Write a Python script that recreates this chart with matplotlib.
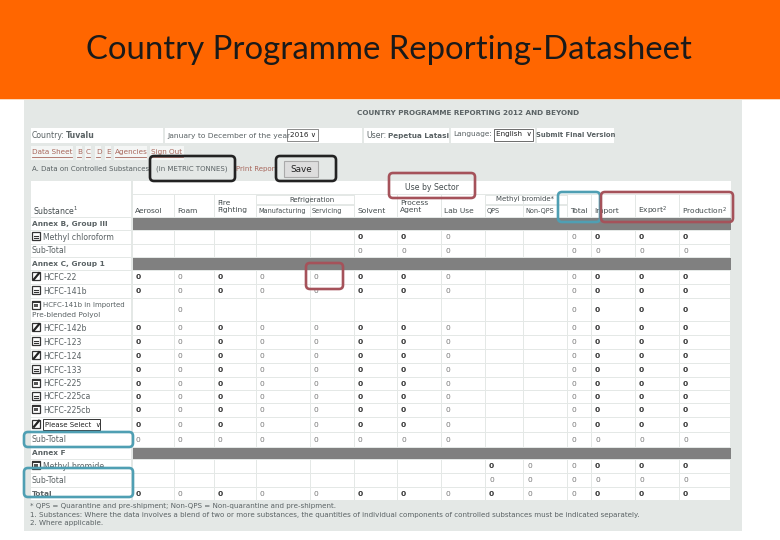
import matplotlib
matplotlib.use("Agg")
import matplotlib.pyplot as plt
from matplotlib.patches import Rectangle, FancyBboxPatch

plt.rcParams["font.family"] = ["DejaVu Sans"]

# DATA

title = "Country Programme Reporting-Datasheet"
page_title = "COUNTRY PROGRAMME REPORTING 2012 AND BEYOND"

columns = ["Aerosol", "Foam", "Fire\nFighting", "Manufacturing", "Servicing", "Solvent",
           "Process\nAgent", "Lab Use", "QPS", "Non-QPS", "Total", "Import", "Export$^2$", "Production$^2$"]

row_names = ["Annex B, Group III", "Methyl chloroform", "Sub-Total", "Annex C, Group 1", "HCFC-22", "HCFC-141b",
             "HCFC-141b in Imported\nPre-blended Polyol", "HCFC-142b", "HCFC-123", "HCFC-124", "HCFC-133", "HCFC-225",
             "HCFC-225ca", "HCFC-225cb", "", "Sub-Total", "Annex F", "Methyl bromide", "Sub-Total", "Total"]

sector_only = ["", "", "", "", "", "0", "0", "0", "", "", "0", "0", "0", "0"]
hcfc = ["0", "0", "0", "0", "0", "0", "0", "0", "", "", "0", "0", "0", "0"]
polyol = ["", "0", "", "", "", "", "", "", "", "", "0", "0", "0", "0"]
mbr = ["", "", "", "", "", "", "", "", "0", "0", "0", "0", "0", "0"]
all_zero = ["0"] * 14

row_values = [None, sector_only, sector_only, None, hcfc, hcfc, polyol, hcfc, hcfc, hcfc, hcfc, hcfc,
              hcfc, hcfc, hcfc, hcfc, None, mbr, mbr, all_zero]

row_icons = ["", "doc", "", "", "pen", "doc", "grid", "pen", "doc", "pen", "doc", "grid",
             "doc", "grid", "pen", "", "", "grid", "", ""]

footnotes = ["* QPS = Quarantine and pre-shipment; Non-QPS = Non-quarantine and pre-shipment.",
             "1. Substances: Where the data involves a blend of two or more substances, the quantities of individual components of controlled substances must be indicated separately.",
             "2. Where applicable."]

# LAYOUT (pixels)

col_edges = [133, 175, 215, 257, 311, 355, 398, 442, 486, 524, 568, 592, 636, 680, 731]
row_edges = [218, 231, 245, 258, 271, 285, 299, 322, 336, 350, 364, 378, 391, 404, 418, 433, 448, 460, 474, 488, 501]
section_rows = ["Annex B, Group III", "Annex C, Group 1", "Annex F"]
bold_cols = [0, 2, 5, 6, 8, 11, 12, 13]

text_col = "#5a6264"
link_col = "#a8675c"
red = "#a5525a"
teal = "#4f9fb3"
black = "#222222"
gap = 1.5

fig = plt.figure(figsize=(7.8, 5.4), dpi=100)
ax = fig.add_axes([0, 0, 1, 1])
ax.set_xlim(0, 780)
ax.set_ylim(540, 0)
ax.axis("off")


def box(x0, y0, x1, y1, color="white", z=2):
    ax.add_patch(Rectangle((x0, y0), x1 - x0, y1 - y0, facecolor=color, edgecolor="none", zorder=z))


def label(x, y, s, size=5.6, color=text_col, ha="left", weight="normal"):
    ax.text(x, y, s, fontsize=size, color=color, ha=ha, va="center", weight=weight, zorder=4, linespacing=1.1)


def mark(x0, y0, x1, y1, color):
    ax.add_patch(FancyBboxPatch((x0 + 3, y0 + 3), x1 - x0 - 6, y1 - y0 - 6, boxstyle="round,pad=3,rounding_size=4",
                                facecolor="none", edgecolor=color, linewidth=1.9, zorder=6))


def icon(x, y, kind):
    ax.add_patch(Rectangle((x, y - 4), 8, 8, facecolor="white", edgecolor="#333333", linewidth=0.9, zorder=5))
    if kind == "pen":
        ax.plot([x + 2, x + 7], [y + 3, y - 3], color="#222222", linewidth=1.6, zorder=5)
    elif kind == "doc":
        ax.plot([x + 2, x + 6], [y, y], color="#333333", linewidth=0.8, zorder=5)
        ax.plot([x + 2, x + 6], [y + 2, y + 2], color="#333333", linewidth=0.8, zorder=5)
    else:
        box(x, y - 4, x + 8, y - 2, "#333333", z=5)
        box(x + 2, y - 1, x + 6, y + 2, "#555555", z=5)


# banner and panel
box(0, 0, 780, 99, "#ff6600")
box(0, 99, 780, 100, "#fbd9bd")
ax.text(389, 50, title, fontsize=23.7, family="Lato", color="#1a1a1a", ha="center", va="center")
box(24, 100, 742, 531, "#e4e8e6", z=1)

label(468, 113, page_title, size=5.2, ha="center", weight="bold")

# user bar
box(31, 128, 163, 143)
box(165, 128, 362, 143)
box(364, 128, 449, 143)
box(451, 128, 535, 143)
box(537, 128, 614, 143)
label(32, 136, "Country:")
label(66, 136, "Tuvalu", weight="bold")
label(167, 136, "January to December of the year", size=5.4)
ax.add_patch(Rectangle((287, 129), 31, 12, facecolor="white", edgecolor="#777777", linewidth=0.6, zorder=3))
label(290, 135, "2016 \u2228", color="#222222", size=5.2)
label(366, 136, "User:")
label(388, 136, "Pepetua Latasi", weight="bold", size=5.2)
label(453, 134, "Language:", size=5.3)
ax.add_patch(Rectangle((494, 129), 39, 12, facecolor="white", edgecolor="#555555", linewidth=0.6, zorder=3))
label(496, 134, "English  \u2228", color="#222222", size=5.2)
label(576, 135, "Submit Final Version", ha="center", size=4.9, weight="bold")

# links
for x0, x1, s in [(31, 73, "Data Sheet"), (76, 82, "B"), (85, 91, "C"), (95, 101, "D"), (105, 111, "E"), (114, 147, "Agencies"), (150, 184, "Sign Out")]:
    box(x0, 146, x1, 160, "#f4f6f5", z=2)
    label(x0 + 1, 152, s, color=link_col, size=5.2)
    ax.plot([x0 + 1, x1 - 1], [157, 157], color=link_col, linewidth=0.6, zorder=4)

label(32, 169, "A. Data on Controlled Substances", size=5.0)
label(156, 169, "(in METRIC TONNES)", size=5.0)
label(236, 169, "Print Report", color=link_col, size=5.0)
ax.add_patch(Rectangle((284, 161), 34, 16, facecolor="#dddddd", edgecolor="#aaaaaa", linewidth=0.8, zorder=3))
label(301, 169, "Save", size=6.4, ha="center", color="#222222")

# table header
box(31, 181, 131, 217)
box(133, 181, 731, 194)
label(33, 211, "Substance$^1$", color="#444c4e")
label(432, 187, "Use by Sector", ha="center", color="#444c4e")
for i, name in enumerate(columns):
    x0, x1 = col_edges[i], col_edges[i + 1]
    if i in (3, 4, 8, 9):
        box(x0, 196, x1 - gap, 204)
        box(x0, 205.5, x1 - gap, 217)
        label(x0 + 1, 211, name, size=4.7, color="#444c4e")
    else:
        box(x0, 195, x1 - gap, 217)
        yy = 206.5 if "\n" in name else 211
        label(x0 + 2, yy, name, color="#444c4e", size=5.4)
label(312, 200, "Refrigeration", ha="center", size=5.0, color="#444c4e")
label(525, 199, "Methyl bromide*", ha="center", size=5.0, color="#444c4e")

# table rows
for r, name in enumerate(row_names):
    y0, y1 = row_edges[r], row_edges[r + 1] - gap
    ym = (y0 + y1) / 2
    box(31, y0, 131, y1)
    if name in section_rows:
        label(32, ym, name, weight="bold", size=5.3)
        box(133, y0, 731, y1, "#808080")
        continue
    if row_icons[r]:
        icon(32, ym - 1 if "\n" not in name else y0 + 6, row_icons[r])
    if name == "Sub-Total":
        label(32, ym, name)
    elif name == "Total":
        label(32, ym, name, weight="bold", size=5.3)
    elif name == "":
        ax.add_patch(Rectangle((43, y0 + 1), 57, 11, facecolor="white", edgecolor="#333333", linewidth=0.7, zorder=3))
        label(45, ym, "Please Select  \u2228", size=5.0, color="#222222")
    elif "\n" in name:
        first, second = name.split("\n")
        label(43, y0 + 6, first, size=5.0)
        label(32, y0 + 16, second, size=5.3)
    else:
        label(43, ym, name)
    for c, val in enumerate(row_values[r]):
        box(col_edges[c], y0, col_edges[c + 1] - gap, y1)
        bold = c in bold_cols and name != "Sub-Total"
        label(col_edges[c] + 3, ym, val, size=5.4, weight="bold" if bold else "normal",
              color="#333333" if bold else "#777777")

# footnotes
for i, note in enumerate(footnotes):
    label(30, 506 + i * 8.7, note, size=5.15)

# highlight boxes
mark(150, 156, 235, 181, black)
mark(276, 156, 336, 181, black)
mark(389, 173, 475, 198, red)
mark(558, 192, 600, 222, teal)
mark(601, 192, 733, 222, red)
mark(306, 263, 343, 289, red)
mark(24, 432, 133, 447, teal)
mark(24, 468, 133, 497, teal)

fig.savefig("out.png", dpi=100)
